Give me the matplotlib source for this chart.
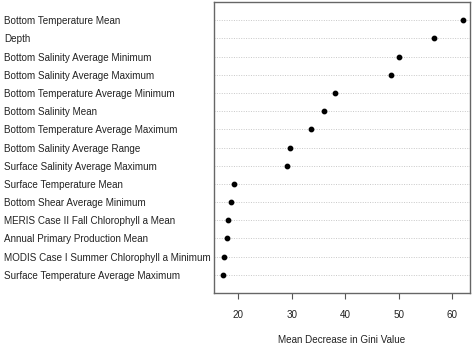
import matplotlib
matplotlib.use('Agg')
import matplotlib.pyplot as plt

# variables, top to bottom as shown
variables = [
    'Bottom Temperature Mean',
    'Depth',
    'Bottom Salinity Average Minimum',
    'Bottom Salinity Average Maximum',
    'Bottom Temperature Average Minimum',
    'Bottom Salinity Mean',
    'Bottom Temperature Average Maximum',
    'Bottom Salinity Average Range',
    'Surface Salinity Average Maximum',
    'Surface Temperature Mean',
    'Bottom Shear Average Minimum',
    'MERIS Case II Fall Chlorophyll a Mean',
    'Annual Primary Production Mean',
    'MODIS Case I Summer Chlorophyll a Minimum',
    'Surface Temperature Average Maximum',
]
gini = [61.9, 56.6, 50.0, 48.6, 38.1, 36.1, 33.6, 29.6, 29.1,
        19.25, 18.7, 18.1, 17.8, 17.3, 17.2]
xticks = [20, 30, 40, 50, 60]

plt.rcParams['font.family'] = ['Liberation Sans', 'DejaVu Sans']
fs = 7.1

fig = plt.figure(figsize=(4.74, 3.46), dpi=100)
ax = fig.add_axes([214 / 474, 1 - 293 / 346, 256 / 474, 291 / 346])

n = len(variables)
ypos = list(range(n, 0, -1))

for y in ypos:
    ax.axhline(y, color='#c8c8c8', linestyle=(0, (1, 1.5)), linewidth=0.7, zorder=1)
ax.scatter(gini, ypos, s=10, color='black', zorder=3)

ax.set_xlim(15.46, 63.3)
ax.set_ylim(0, n + 1)
ax.set_xticks(xticks)
ax.set_yticks(ypos)
ax.set_yticklabels(variables, ha='left', fontsize=fs, color='#222222')
ax.tick_params(axis='y', length=0, pad=151)
ax.tick_params(axis='x', length=4, width=0.8, color='#555555', labelsize=fs,
               labelcolor='#222222', pad=8)
for sp in ax.spines.values():
    sp.set_color('#666666')
    sp.set_linewidth(1.0)

ax.set_xlabel('Mean Decrease in Gini Value', fontsize=fs, color='#222222', labelpad=11)

fig.savefig('out.png', dpi=100)
